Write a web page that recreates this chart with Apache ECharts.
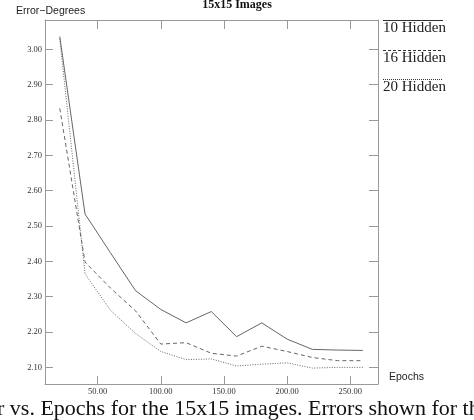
<!DOCTYPE html>
<html>
<head>
<meta charset="utf-8">
<script src="https://cdn.jsdelivr.net/npm/echarts@6/dist/echarts.min.js"></script>
<style>html,body{margin:0;padding:0;background:#fff}#c{width:474px;height:420px}</style>
</head>
<body>
<div id="c"></div>
<script>
const epochs = [20, 40, 60, 80, 100, 120, 140, 160, 180, 200, 220, 240, 260];
const hidden10 = [3.036, 2.534, 2.425, 2.317, 2.264, 2.226, 2.258, 2.187, 2.226, 2.180, 2.151, 2.149, 2.148];
const hidden16 = [2.833, 2.398, 2.325, 2.260, 2.166, 2.170, 2.140, 2.132, 2.160, 2.145, 2.128, 2.119, 2.119];
const hidden20 = [3.030, 2.365, 2.262, 2.196, 2.145, 2.122, 2.124, 2.104, 2.109, 2.113, 2.098, 2.100, 2.100];
const xTicks = [50, 100, 150, 200, 250];
const yTicks = [2.10, 2.20, 2.30, 2.40, 2.50, 2.60, 2.70, 2.80, 2.90, 3.00];
const seriesNames = ['10 Hidden', '16 Hidden', '20 Hidden'];

const lineColor = '#666';
const axisColor = '#999';
const serif = '"Liberation Serif", "DejaVu Serif", serif';
const sans = '"Liberation Sans", Arial, sans-serif';

const pairs = arr => epochs.map((e, i) => [e, arr[i]]);
const axisStyle = { lineStyle: { color: axisColor, width: 1 } };

const chart = echarts.init(document.getElementById('c'), null, { renderer: 'canvas' });
chart.setOption({
  animation: false,
  backgroundColor: '#fff',
  grid: { left: 45, right: 96, top: 20, bottom: 36, containLabel: false },
  xAxis: [
    { type: 'value', min: 8.3, max: 272, position: 'bottom',
      axisLine: { show: true, ...axisStyle },
      axisTick: { show: true, inside: true, length: 8, customValues: xTicks, lineStyle: { color: axisColor } },
      axisLabel: { customValues: xTicks, formatter: v => v.toFixed(2), fontFamily: serif, fontSize: 8.5, color: '#333', margin: 3 },
      splitLine: { show: false } },
    { type: 'value', min: 8.3, max: 272, position: 'top',
      axisLine: { show: true, ...axisStyle },
      axisTick: { show: true, inside: true, length: 9, customValues: xTicks, lineStyle: { color: axisColor } },
      axisLabel: { show: false },
      splitLine: { show: false } }
  ],
  yAxis: [
    { type: 'value', min: 2.053, max: 3.083, position: 'left',
      axisLine: { show: true, ...axisStyle },
      axisTick: { show: true, inside: true, length: 8, customValues: yTicks, lineStyle: { color: axisColor } },
      axisLabel: { customValues: yTicks, formatter: v => v.toFixed(2), fontFamily: serif, fontSize: 8.5, color: '#333', margin: 3 },
      splitLine: { show: false } },
    { type: 'value', min: 2.053, max: 3.083, position: 'right',
      axisLine: { show: true, ...axisStyle },
      axisTick: { show: true, inside: true, length: 9, customValues: yTicks, lineStyle: { color: axisColor } },
      axisLabel: { show: false },
      splitLine: { show: false } }
  ],
  series: [
    { name: seriesNames[0], type: 'line', data: pairs(hidden10), showSymbol: false, lineStyle: { color: lineColor, width: 1, type: 'solid' } },
    { name: seriesNames[1], type: 'line', data: pairs(hidden16), showSymbol: false, lineStyle: { color: lineColor, width: 1, type: [4, 3] } },
    { name: seriesNames[2], type: 'line', data: pairs(hidden20), showSymbol: false, lineStyle: { color: lineColor, width: 1, type: [1, 1.5] } }
  ],
  graphic: [
    { type: 'text', left: 'center', top: -1, style: { text: '15x15 Images', font: 'bold 12px ' + serif, fill: '#111' } },
    { type: 'text', x: 16, y: 11.5, style: { text: 'Error\u2212Degrees', font: '10.5px ' + sans, fill: '#222', verticalAlign: 'middle' } },
    { type: 'text', x: 389, y: 377, style: { text: 'Epochs', font: '10.5px ' + sans, fill: '#222', verticalAlign: 'middle' } },
    { type: 'line', shape: { x1: 383, y1: 20.5, x2: 443, y2: 20.5 }, style: { stroke: '#333', lineWidth: 1 } },
    { type: 'text', x: 383, y: 28.5, style: { text: seriesNames[0], font: '15px ' + serif, fill: '#222', verticalAlign: 'middle' } },
    { type: 'line', shape: { x1: 383, y1: 50.5, x2: 443, y2: 50.5 }, style: { stroke: '#333', lineWidth: 1, lineDash: [3, 2] } },
    { type: 'text', x: 383, y: 58.5, style: { text: seriesNames[1], font: '15px ' + serif, fill: '#222', verticalAlign: 'middle' } },
    { type: 'line', shape: { x1: 383, y1: 79.5, x2: 443, y2: 79.5 }, style: { stroke: '#333', lineWidth: 1, lineDash: [1, 1] } },
    { type: 'text', x: 383, y: 87.5, style: { text: seriesNames[2], font: '15px ' + serif, fill: '#222', verticalAlign: 'middle' } },
    { type: 'text', x: -3, y: 409.5, style: { text: 'r vs. Epochs for the 15x15 images. Errors shown for th', font: '22px ' + serif, fill: '#111', verticalAlign: 'middle' } }
  ]
});
</script>
</body>
</html>
